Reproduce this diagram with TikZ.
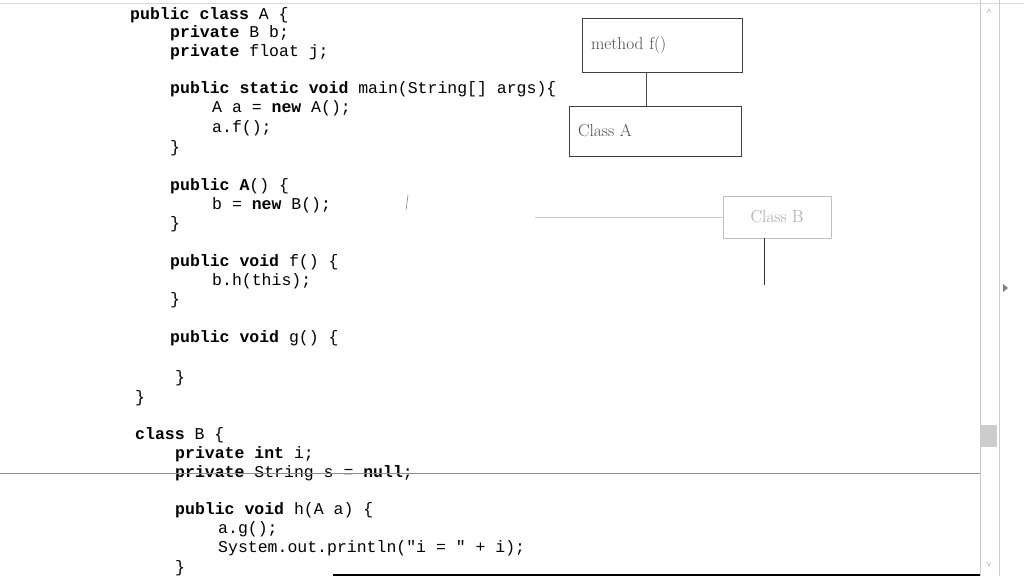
\documentclass[tikz,border=0pt]{standalone}
\usepackage{fontspec}
\setmonofont{Liberation Mono}
\begin{document}
\begin{tikzpicture}[x=1pt,y=-1pt,
  code/.style={anchor=west,inner sep=0pt,font=\fontsize{16.5}{18}\selectfont\ttfamily},
  hand/.style={draw=black!75,line width=0.6pt,font=\LARGE,text=black!70,align=left,inner xsep=9pt,text width=#1},
  faint/.style={draw=black!25,text=black!35,line width=0.6pt}]
\useasboundingbox (0,0) rectangle (1024,576);
\fill[white] (0,0) rectangle (1024,576);
\draw[black!15] (0,3) -- (1024,3);
% code
\newcommand{\kw}[1]{\textbf{#1}}
\foreach \x/\y/\t in {
130/15/{\kw{public class} A \{},
170/33/{\kw{private} B b;},
170/52/{\kw{private} float j;},
170/89/{\kw{public static void} main(String[] args)\{},
212/108/{A a = \kw{new} A();},
212/128/{a.f();},
170/148/{\}},
170/186/{\kw{public} \kw{A}() \{},
212/205/{b = \kw{new} B();},
170/224/{\}},
170/262/{\kw{public void} f() \{},
212/281/{b.h(this);},
170/300/{\}},
170/338/{\kw{public void} g() \{},
175/378/{\}},
135/398/{\}},
135/435/{\kw{class} B \{},
175/454/{\kw{private int} i;},
175/473/{\kw{private} String s = \kw{null};},
175/510/{\kw{public void} h(A a) \{},
218/529/{a.g();},
218/548/{System.out.println("i = " + i);},
175/568/{\}}}
  \node[code] at (\x,\y) {\t};
% rules
\draw[black!45] (0,473) -- (980,473);
\draw[black,line width=1.5pt] (333,575) -- (980,575);
% scrollbar
\draw[black!20] (980,0) -- (980,576) (999,0) -- (999,576);
\fill[black!20] (981,425) rectangle (997,447);
\node[font=\scriptsize,text=black!60] (up) at (989,12) {$\wedge$};
\node[font=\scriptsize,text=black!60] (dn) at (989,565) {$\vee$};
\fill[black!50] (1003,284) -- (1008,288) -- (1003,292) -- cycle;
% hand drawing
\node[hand=142pt,minimum height=54pt] (mf) at (662,45) {method f()};
\node[hand=154pt,minimum height=50pt] (ca) at (655,131) {Class A};
\draw[black!70] (mf.south -| 646,0) -- (ca.north -| 646,0);
\node[faint,minimum width=108pt,minimum height=42pt,font=\LARGE] (cb) at (777,217) {Class B};
\coordinate (l1) at (535,217);
\draw[black!20,line width=0.8pt] (l1) -- (cb.west);
\coordinate (d1) at (764,285);
\draw[black!80] (cb.south -| d1) -- (d1);
\coordinate (m1) at (408,195); \coordinate (m2) at (406,210);
\draw[black!70] (m1) -- (m2);
\end{tikzpicture}
\end{document}
